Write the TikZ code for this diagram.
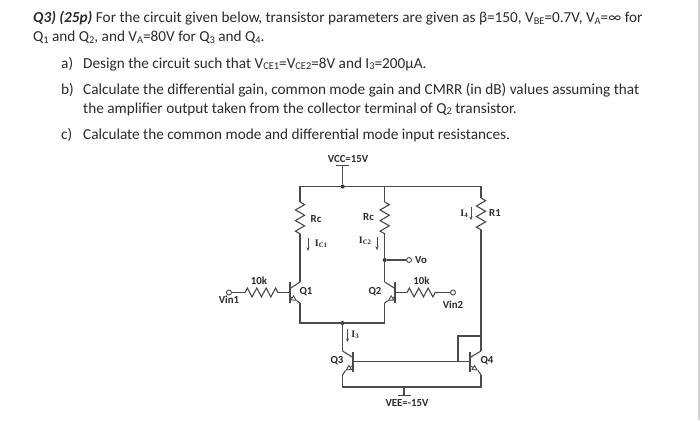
\documentclass[tikz,border=0pt]{standalone}
\usepackage{fontspec}
\setmainfont{Carlito}
\newfontfamily\curfont{Liberation Serif}
\usetikzlibrary{arrows.meta,decorations.pathmorphing}
\definecolor{ink}{HTML}{2B2B2B}
\definecolor{wirec}{HTML}{4A4A4A}
\newcommand{\lowsub}[1]{\raisebox{-0.25ex}{\scalebox{0.68}{#1}}}
\tikzset{
  body/.style={anchor=base west,inner sep=0pt,text=ink,font=\fontsize{15.25}{17}\selectfont},
  wire/.style={draw=wirec,line width=1.1pt},
  resistor/.style={wire,decorate,decoration={zigzag,segment length=10.6pt,amplitude=4.6pt,pre length=0pt,post length=0pt}},
  resh/.style={wire,decorate,decoration={zigzag,segment length=9.4pt,amplitude=4.4pt,pre length=0pt,post length=0pt}},
  lbl/.style={inner sep=0pt,text=ink,font=\fontsize{10.8}{12}\selectfont\bfseries},
  cur/.style={inner sep=0pt,text=ink,font=\fontsize{10}{11}\selectfont\curfont\bfseries},
  term/.style={circle,draw=wirec,line width=0.9pt,fill=white,minimum size=5pt,inner sep=0pt},
  dot/.style={circle,fill=ink,minimum size=4pt,inner sep=0pt},
  curarrow/.style={draw=wirec,line width=0.7pt,-{Stealth[length=3.5pt,width=3pt]}},
  emit/.style={wire,line width=0.9pt,-{Triangle[open,length=6pt,width=6pt,sep=0pt]}}
}
\begin{document}
\begin{tikzpicture}[x=1pt,y=-1pt]
\useasboundingbox (0,0) rectangle (700,420);
\fill[white] (0,0) rectangle (700,420);
\fill[gray!35] (697.5,0) rectangle (700,420);
% question text
\node[body] (t1) at (33,23) {\textbf{\textit{Q3) (25p)}} For the circuit given below, transistor parameters are given as β=150, V\lowsub{BE}=0.7V, V\lowsub{A}=∞ for};
\node[body] (t2) at (33,41.5) {Q\lowsub{1} and Q\lowsub{2}, and V\lowsub{A}=80V for Q\lowsub{3} and Q\lowsub{4}.};
\node[body] (a1) at (61,68) {a)};
\node[body] (a2) at (83,68) {Design the circuit such that V\lowsub{CE1}=V\lowsub{CE2}=8V and I\lowsub{3}=200µA.};
\node[body] (b1) at (61,94.5) {b)};
\node[body] (b2) at (83,94.5) {Calculate the differential gain, common mode gain and CMRR (in dB) values assuming that};
\node[body] (b3) at (83,113) {the amplifier output taken from the collector terminal of Q\lowsub{2} transistor.};
\node[body] (c1) at (61,139.5) {c)};
\node[body] (c2) at (83,139.5) {Calculate the common mode and differential mode input resistances.};
% coordinates
\coordinate (vccbarl) at (336,165.5); \coordinate (vccbarr) at (349,165.5);
\coordinate (vcctop) at (342.7,165.5);
\coordinate (tl) at (300,186.5); \coordinate (tr) at (481,186.5);
\coordinate (tm) at (384.7,186.5);
\coordinate (rc1a) at (300,202); \coordinate (rc1b) at (300,234);
\coordinate (rc2a) at (384.7,202); \coordinate (rc2b) at (384.7,234);
\coordinate (r1a) at (481,198); \coordinate (r1b) at (481,230);
\coordinate (c1p) at (300,282); \coordinate (b1b) at (290,292.5); \coordinate (e1p) at (300,303);
\coordinate (c2p) at (384.7,282); \coordinate (b2b) at (395,292.5); \coordinate (e2p) at (384.7,303);
\coordinate (bl) at (300,323); \coordinate (br) at (384.7,323); \coordinate (bm) at (342.5,323);
\coordinate (c3p) at (342.5,351); \coordinate (b3b) at (353,361.7); \coordinate (e3p) at (342.5,375);
\coordinate (c4p) at (481,351); \coordinate (b4b) at (470,361.7); \coordinate (e4p) at (481,375);
\coordinate (mirrb) at (458,361.7); \coordinate (mirrt) at (458,336); \coordinate (mirrr) at (481,336);
\coordinate (botl) at (342.5,387); \coordinate (botr) at (481,387); \coordinate (botm) at (404,387);
\coordinate (veestem) at (404,395.5);
\coordinate (r3a) at (245,292.5); \coordinate (r3b) at (278,292.5);
\coordinate (r4a) at (407,292.5); \coordinate (r4b) at (438,292.5);
% terminals and dots
\node[dot] (djv) at (vcctop |- tl) {};
\node[dot] (djo) at (384.7,260) {};
\node[dot] (djb) at (bm) {};
\node[term] (vin1) at (229,292.5) {};
\node[term] (vin2) at (453,292.5) {};
\node[term] (vo) at (409,260) {};
% supply
\draw[wire] (vccbarl) -- (vccbarr);
\draw[wire] (vcctop) -- (djv);
\draw[wire] (rc1a) -- (tl) -- (tr) -- (r1a);
\draw[wire] (tm) -- (rc2a);
\draw[resistor] (rc1a) -- (rc1b);
\draw[resistor] (rc2a) -- (rc2b);
\draw[resistor] (r1a) -- (r1b);
\draw[wire] (rc1b) -- (c1p);
\draw[wire] (rc2b) -- (c2p);
\draw[wire] (r1b) -- (c4p);
\draw[wire] (djo) -- (vo);
% Q1
\draw[wire] (290,282) -- (290,303);
\draw[wire] (c1p) -- (290,288.5);
\draw[emit] (290,296.5) -- (297,300.8);
\draw[wire] (297,300.8) -- (e1p);
\draw[wire] (vin1) -- (r3a);
\draw[resh] (r3a) -- (r3b);
\draw[wire] (r3b) -- (b1b);
% Q2
\draw[wire] (395,282) -- (395,303);
\draw[wire] (c2p) -- (395,288.5);
\draw[emit] (395,296.5) -- (387.7,300.8);
\draw[wire] (387.7,300.8) -- (e2p);
\draw[wire] (b2b) -- (r4a);
\draw[resh] (r4a) -- (r4b);
\draw[wire] (r4b) -- (vin2);
% diff pair tail
\draw[wire] (e1p) -- (bl) -- (br) -- (e2p);
\draw[wire] (djb) -- (c3p);
% Q3
\draw[wire] (353,351.5) -- (353,372);
\draw[wire] (c3p) -- (353,357.5);
\draw[emit] (353,365.5) -- (345.5,370.5);
\draw[wire] (345.5,370.5) -- (e3p);
% Q4
\draw[wire] (470,351.5) -- (470,372);
\draw[wire] (c4p) -- (470,357.5);
\draw[emit] (470,365.5) -- (478,370.5);
\draw[wire] (478,370.5) -- (e4p);
% mirror
\draw[wire] (b3b) -- (b4b);
\draw[wire] (mirrb) -- (mirrt) -- (mirrr);
\draw[wire] (e3p) -- (botl) -- (botr) -- (e4p);
\draw[wire] (botm) -- (veestem);
\draw[wire] (397.5,395.5) -- (410.5,395.5);
% current arrows
\coordinate (ia1) at (308,238); \coordinate (ia2) at (308,251);
\coordinate (ib1) at (377,237); \coordinate (ib2) at (377,250);
\coordinate (ic1) at (347.5,329); \coordinate (ic2) at (347.5,342);
\coordinate (id1) at (471,207); \coordinate (id2) at (471,220);
\draw[curarrow] (ia1) -- (ia2);
\draw[curarrow] (ib1) -- (ib2);
\draw[curarrow] (ic1) -- (ic2);
\draw[curarrow] (id1) -- (id2);
% labels
\node[lbl] (lvcc) at (348,159) {VCC=15V};
\node[lbl] (lvee) at (407,403) {VEE=-15V};
\node[lbl] (lrc1) at (316,219.5) {Rc};
\node[lbl] (lrc2) at (368.5,217.5) {Rc};
\node[lbl] (lr1) at (495,213) {R1};
\node[lbl] (l10a) at (259,281) {10k};
\node[lbl] (l10b) at (421.5,281) {10k};
\node[lbl] (lq1) at (306,292) {Q1};
\node[lbl] (lq2) at (375,292) {Q2};
\node[lbl] (lq3) at (337,361) {Q3};
\node[lbl] (lq4) at (487,361) {Q4};
\node[lbl] (lvi1) at (229,300) {Vin1};
\node[lbl] (lvi2) at (453,305) {Vin2};
\node[lbl] (lvo) at (421,260) {Vo};
\node[cur] (li1) at (321,243.5) {I\lowsub{C1}};
\node[cur] (li2) at (365,241) {I\lowsub{C2}};
\node[cur] (li3) at (355,335) {I\lowsub{3}};
\node[cur] (li4) at (464,214) {I\lowsub{4}};
\end{tikzpicture}
\end{document}
